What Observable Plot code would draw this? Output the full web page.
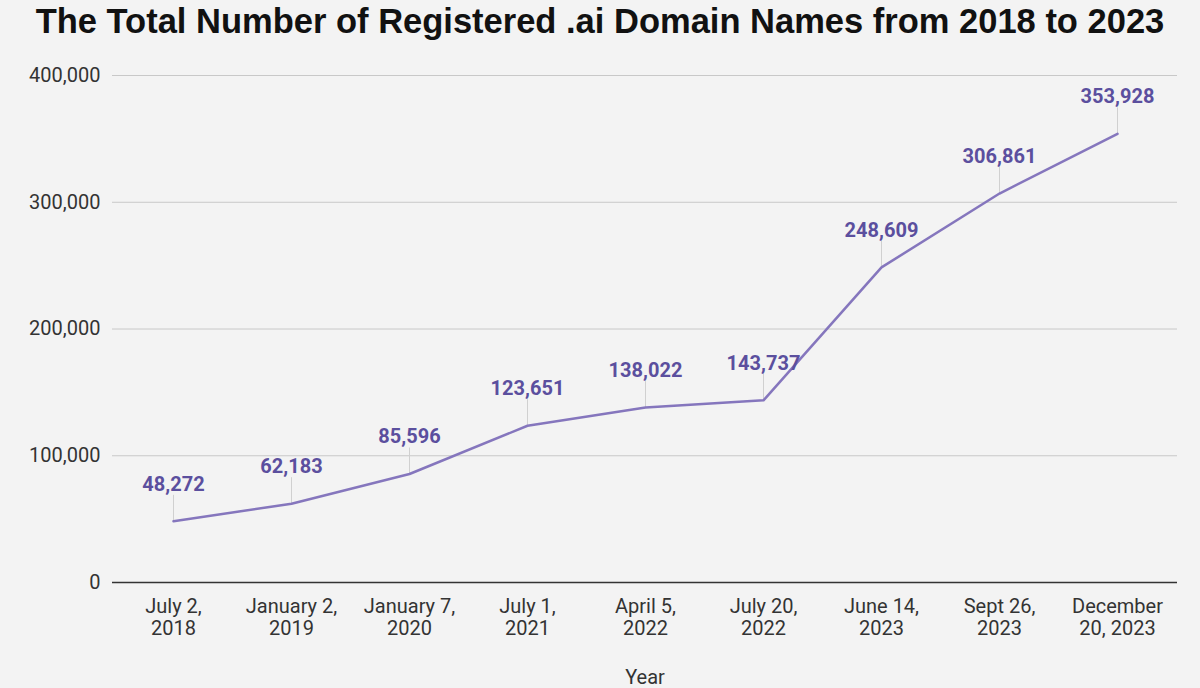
<!DOCTYPE html>
<html><head><meta charset="utf-8">
<script src="https://cdn.jsdelivr.net/npm/d3@7"></script>
<script src="https://cdn.jsdelivr.net/npm/@observablehq/plot@0.6"></script>
<style>
html,body{margin:0;padding:0;background:#f3f3f3;}
#title{height:44px;line-height:42px;text-align:center;font-family:"Liberation Sans",Arial,sans-serif;font-weight:bold;font-size:34.5px;color:#111;white-space:nowrap;}
</style></head><body>
<div id="title">The Total Number of Registered .ai Domain Names from 2018 to 2023</div>
<div id="chart"></div>
<script>
const dates = ["July 2,\n2018","January 2,\n2019","January 7,\n2020","July 1,\n2021","April 5,\n2022","July 20,\n2022","June 14,\n2023","Sept 26,\n2023","December\n20, 2023"];
const domains = [48272, 62183, 85596, 123651, 138022, 143737, 248609, 306861, 353928];
const yTicks = [0, 100000, 200000, 300000, 400000];

const data = dates.map((d, i) => ({date: d, value: domains[i]}));
const fmt = d3.format(",");

const plot = Plot.plot({
  width: 1200,
  height: 644,
  marginTop: 31,
  marginLeft: 112,
  marginRight: 23,
  marginBottom: 106,
  style: {background: "#f3f3f3", fontFamily: "Roboto, sans-serif", fontSize: "20px", color: "#333"},
  x: {type: "point", domain: dates, padding: 0.5, label: null},
  y: {type: "linear", domain: [0, 400000], ticks: yTicks, label: null},
  marks: [
    Plot.gridY(yTicks.filter(t => t > 0), {stroke: "#c8c8c8", strokeOpacity: 1, strokeWidth: 1}),
    Plot.ruleY([0], {stroke: "#333", strokeWidth: 1.5}),
    Plot.axisY({ticks: yTicks, tickFormat: fmt, tickSize: 0, tickPadding: 12, fontSize: 20, fill: "#333", label: null}),
    Plot.axisX({tickSize: 0, tickPadding: 15, fontSize: 20, fill: "#333", lineHeight: 1.1, label: null}),
    Plot.text(["Year"], {frameAnchor: "bottom", dy: 101, fontSize: 20, fill: "#333"}),
    Plot.ruleX(data, {x: "date", y1: "value", y2: "value", stroke: "#d0d0d0", strokeWidth: 1, insetTop: -26}),
    Plot.line(data, {x: "date", y: "value", stroke: "#8576bd", strokeWidth: 2.5}),
    Plot.text(data, {x: "date", y: "value", text: d => fmt(d.value), dy: -37, fill: "#5b4f9e", fontWeight: "bold", fontSize: 20, fontFamily: "Roboto, sans-serif"})
  ]
});
document.getElementById("chart").appendChild(plot);
</script>
</body></html>
